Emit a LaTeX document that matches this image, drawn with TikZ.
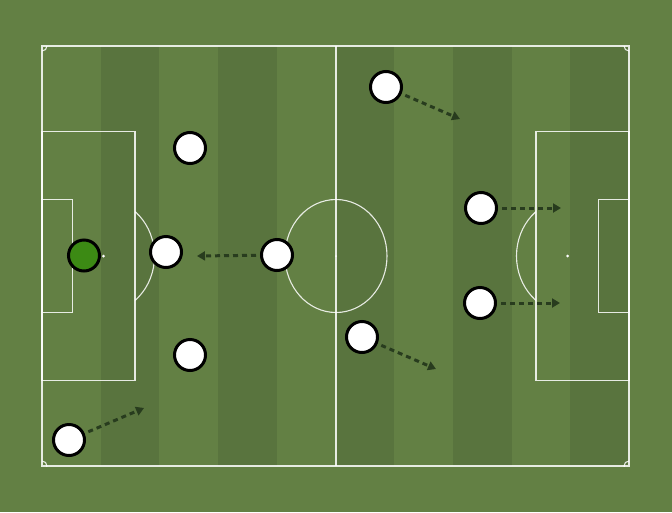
\documentclass[tikz,border=0pt]{standalone}
\usetikzlibrary{arrows.meta}
\definecolor{grassL}{RGB}{99,128,68}
\definecolor{grassD}{RGB}{89,116,62}
\definecolor{arrowC}{RGB}{40,60,30}
\definecolor{keeper}{RGB}{60,138,20}
\tikzset{
  pline/.style={draw=white, draw opacity=0.85, line width=1.1pt},
  player/.style={circle, draw=black, line width=3pt, fill=white, minimum size=31pt, inner sep=0pt},
  gk/.style={player, fill=keeper},
  run/.style={draw=arrowC, line width=3pt, dash pattern=on 5pt off 4pt, shorten <=4pt,
    -{Triangle[length=8pt,width=9pt]}},
  spot/.style={circle, fill=white, inner sep=0pt, minimum size=3pt}
}
\begin{document}
\begin{tikzpicture}[x=1pt,y=-1pt]
\useasboundingbox (0,0) rectangle (672,512);
\fill[grassL] (0,0) rectangle (672,512);
% stripes
\foreach \i in {1,3,5,7,9} {
  \fill[grassD] ({42+\i*58.7},46) rectangle ({42+(\i+1)*58.7},466);
}
% pitch outline
\draw[pline] (42,46) rectangle (629,466);
\draw[pline] (336,46) -- (336,466);
\draw[pline] (336,256) ellipse [x radius=51, y radius=56.5];
\node[spot, minimum size=2pt] (cspot) at (336,256) {};
% left penalty area
\draw[pline] (42,131.5) rectangle (135,380.5);
\draw[pline] (42,199.5) rectangle (72.7,312.5);
\node[spot] (lspot) at (103.5,256) {};
\begin{scope}
  \clip (135,0) rectangle (300,512);
  \draw[pline] (103.5,256) ellipse [x radius=51, y radius=56.5];
\end{scope}
% right penalty area
\draw[pline] (536,131.5) rectangle (629,380.5);
\draw[pline] (598.3,199.5) rectangle (629,312.5);
\node[spot] (rspot) at (567.5,256) {};
\begin{scope}
  \clip (372,0) rectangle (536,512);
  \draw[pline] (567.5,256) ellipse [x radius=51, y radius=56.5];
\end{scope}
% corner arcs
\begin{scope}
  \clip (42,46) rectangle (629,466);
  \draw[pline] (42,46) circle[radius=5];
  \draw[pline] (629,46) circle[radius=5];
  \draw[pline] (42,466) circle[radius=5];
  \draw[pline] (629,466) circle[radius=5];
\end{scope}
% arrow targets
\coordinate (t1) at (460,119);
\coordinate (t2) at (197,256);
\coordinate (t3) at (561,208);
\coordinate (t4) at (560,303);
\coordinate (t5) at (436,369);
\coordinate (t6) at (144,408);
% players
\node[gk] (gk) at (84,255.5) {};
\node[player] (p1) at (190,148) {};
\node[player] (p2) at (166,252) {};
\node[player] (p3) at (190,355) {};
\node[player] (p4) at (69,440) {};
\node[player] (p5) at (277,255) {};
\node[player] (p6) at (386,87) {};
\node[player] (p7) at (362,337) {};
\node[player] (p8) at (481,208) {};
\node[player] (p9) at (480,303) {};
% runs
\draw[run] (p6) -- (t1);
\draw[run] (p5) -- (t2);
\draw[run] (p8) -- (t3);
\draw[run] (p9) -- (t4);
\draw[run] (p7) -- (t5);
\draw[run] (p4) -- (t6);
\end{tikzpicture}
\end{document}
